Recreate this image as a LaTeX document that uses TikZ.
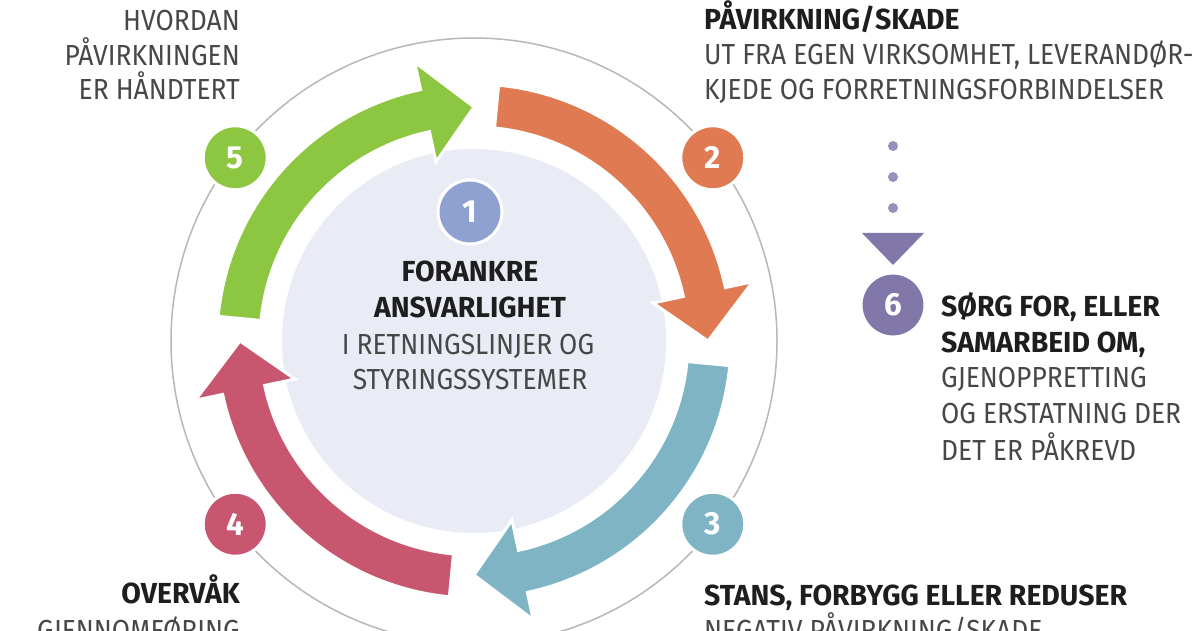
\documentclass[tikz,border=0pt]{standalone}
\usepackage{fontspec}
\setmainfont[FakeStretch=0.91, BoldFeatures={FakeStretch=0.98}]{Fira Sans}
\usetikzlibrary{calc}
\definecolor{cgreen}{HTML}{8DC641}
\definecolor{corange}{HTML}{DF7A52}
\definecolor{cteal}{HTML}{7EB4C4}
\definecolor{cred}{HTML}{C8566F}
\definecolor{cblue}{HTML}{8FA1D0}
\definecolor{cpurple}{HTML}{8277A9}
\definecolor{cdot}{HTML}{9690BA}
\definecolor{corefill}{HTML}{E9ECF4}
\definecolor{ringgray}{HTML}{B8B8B8}
\definecolor{txtgray}{HTML}{474747}
\definecolor{txtdark}{HTML}{1E1E1E}
\tikzset{
  badge/.style={circle, fill=#1, draw=white, line width=3pt, minimum size=64pt,
    inner sep=0pt, text=white, font=\fontsize{32}{32}\selectfont\bfseries},
  lbl/.style={inner sep=0pt, text=txtgray, font=\fontsize{29}{29}\selectfont},
  lblb/.style={inner sep=0pt, text=txtdark, font=\fontsize{29}{29}\selectfont\bfseries},
  ringline/.style={draw=ringgray, line width=1.5pt},
  dotline/.style={draw=cdot, line width=10pt, line cap=round, dash pattern=on 0pt off 31pt},
  arrowshape/.style={fill=#1, draw=white, line width=3pt, line join=miter}
}
\newcommand\cyclearrow[2]{%
  \filldraw[arrowshape=#2]
    ($(C)+({#1-5.5}:257pt)$) arc[start angle={#1-5.5}, end angle={#1-78}, radius=257pt]
    -- ($(C)+({#1-78}:285pt)$) -- ($(C)+({#1-90}:234pt)$) -- ($(C)+({#1-78}:183pt)$)
    -- ($(C)+({#1-78}:214pt)$) arc[start angle={#1-78}, end angle={#1-5.5}, radius=214pt]
    -- cycle;}
\begin{document}
\begin{tikzpicture}[x=1pt,y=1pt]
\useasboundingbox (0,0) rectangle (1200,630);
\clip (0,0) rectangle (1200,630);
\fill[white] (0,0) rectangle (1200,630);
\coordinate (C) at (474,289);
\draw[ringline] (C) circle[radius=303pt];
\fill[corefill] (C) circle[radius=192pt];
\cyclearrow{180}{cgreen}
\cyclearrow{90}{corange}
\cyclearrow{0}{cteal}
\cyclearrow{-90}{cred}
\node[badge=cgreen] (b5) at ($(C)+(142.5:301pt)$) {5};
\node[badge=corange] (b2) at ($(C)+(37.5:301pt)$) {2};
\node[badge=cteal] (b3) at ($(C)+(-37.5:301pt)$) {3};
\node[badge=cred] (b4) at ($(C)+(-142.5:301pt)$) {4};
\node[badge=cblue] (b1) at (470,418) {1};
\node[badge=cpurple] (b6) at (893,325) {6};
% dotted connector and triangle
\coordinate (dtop) at (893,484);
\coordinate (tri) at (893,397);
\draw[dotline] (dtop) -- (tri);
\fill[cpurple] ($(tri)+(-31,0)$) -- ($(tri)+(31,0)$) -- ($(tri)+(0,-32)$) -- cycle;
% top left
\node[lbl, anchor=base east] (tl1) at (240,599) {HVORDAN};
\node[lbl, anchor=base east] (tl2) at (240,564) {PÅVIRKNINGEN};
\node[lbl, anchor=base east] (tl3) at (240,530) {ER HÅNDTERT};
% top right
\node[lblb, anchor=base west] (tr1) at (704,600) {PÅVIRKNING/SKADE};
\node[lbl, anchor=base west] (tr2) at (704,565) {UT FRA EGEN VIRKSOMHET, LEVERANDØR-};
\node[lbl, anchor=base west] (tr3) at (704,530) {KJEDE OG FORRETNINGSFORBINDELSER};
% centre
\node[lblb, anchor=base] (c1) at (470,348) {FORANKRE};
\node[lblb, anchor=base] (c2) at (470,312) {ANSVARLIGHET};
\node[lbl, anchor=base] (c3) at (468,275) {I RETNINGSLINJER OG};
\node[lbl, anchor=base] (c4) at (470,240) {STYRINGSSYSTEMER};
% right
\node[lblb, anchor=base west] (r1) at (941,313) {SØRG FOR, ELLER};
\node[lblb, anchor=base west] (r2) at (941,277) {SAMARBEID OM,};
\node[lbl, anchor=base west] (r3) at (941,242) {GJENOPPRETTING};
\node[lbl, anchor=base west] (r4) at (941,206) {OG ERSTATNING DER};
\node[lbl, anchor=base west] (r5) at (941,170) {DET ER PÅKREVD};
% bottom left
\node[lblb, anchor=base east] (bl1) at (240,27) {OVERVÅK};
\node[lbl, anchor=base east] (bl2) at (240,-10) {GJENNOMFØRING};
% bottom right
\node[lblb, anchor=base west] (br1) at (704,25) {STANS, FORBYGG ELLER REDUSER};
\node[lbl, anchor=base west] (br2) at (704,-10) {NEGATIV PÅVIRKNING/SKADE};
\end{tikzpicture}
\end{document}
